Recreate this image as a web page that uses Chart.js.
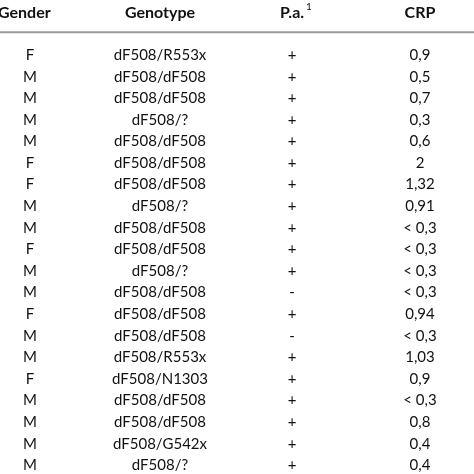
<!DOCTYPE html>
<html><head><meta charset="utf-8">
<script src="https://cdn.jsdelivr.net/npm/chart.js@4"></script>
<style>html,body{margin:0;padding:0;background:#fff}#w{width:474px;height:474px}</style>
</head><body><div id="w"><canvas id="c"></canvas></div>
<script>
const headers = ["Gender","Genotype","P.a.","CRP"];
const gender = ["F","M","M","M","M","F","F","M","M","F","M","M","F","M","M","F","M","M","M","M"];
const genotype = ["dF508/R553x","dF508/dF508","dF508/dF508","dF508/?","dF508/dF508","dF508/dF508","dF508/dF508","dF508/?","dF508/dF508","dF508/dF508","dF508/?","dF508/dF508","dF508/dF508","dF508/dF508","dF508/R553x","dF508/N1303","dF508/dF508","dF508/dF508","dF508/G542x","dF508/?"];
const pa = ["+","+","+","+","+","+","+","+","+","+","+","-","+","-","+","+","+","+","+","+"];
const crp = ["0,9","0,5","0,7","0,3","0,6","2","1,32","0,91","< 0,3","< 0,3","< 0,3","< 0,3","0,94","< 0,3","1,03","0,9","< 0,3","0,8","0,4","0,4"];
const columns = [gender, genotype, pa, crp];
const colX = [30, 160, 292, 420];
const headerRow = -1.94, ruleRow = -1.06;

const tablePlugin = {
  id: 'table',
  afterDatasetsDraw(chart) {
    const {ctx, scales:{x, y}} = chart;
    ctx.save();
    ctx.fillStyle = '#111';
    ctx.textAlign = 'center';
    ctx.textBaseline = 'middle';
    ctx.font = 'bold 16px Lato, "DejaVu Sans", sans-serif';
    headers.forEach((h, i) => {
      let px = x.getPixelForValue(colX[i]);
      if (i === 0) { ctx.textAlign = 'left'; px = x.getPixelForValue(-2); }
      else ctx.textAlign = 'center';
      ctx.fillText(h, px, y.getPixelForValue(headerRow));
      if (h === 'P.a.') {
        const w = ctx.measureText(h).width;
        ctx.font = '10px Lato, sans-serif';
        ctx.textAlign = 'left';
        ctx.fillText('1', px + w / 2 + 2, y.getPixelForValue(headerRow) - 6);
        ctx.font = 'bold 16px Lato, "DejaVu Sans", sans-serif';
      }
    });
    ctx.strokeStyle = '#9a9a9a';
    ctx.lineWidth = 2;
    ctx.beginPath();
    const ly = y.getPixelForValue(ruleRow);
    ctx.moveTo(x.getPixelForValue(0), ly);
    ctx.lineTo(x.getPixelForValue(474), ly);
    ctx.stroke();
    ctx.font = '15px Lato, "DejaVu Sans", sans-serif';
    ctx.textAlign = 'center';
    columns.forEach((col, ci) => {
      col.forEach((v, ri) => {
        ctx.fillText(v, x.getPixelForValue(colX[ci]), y.getPixelForValue(ri));
      });
    });
    ctx.restore();
  }
};

new Chart(document.getElementById('c'), {
  type: 'scatter',
  data: { datasets: [{ data: gender.map((g, i) => ({x: colX[0], y: i})), pointRadius: 0 }] },
  options: {
    responsive: true, maintainAspectRatio: false, animation: false,
    layout: { padding: 0 },
    plugins: { legend: { display: false }, tooltip: { enabled: false } },
    scales: {
      x: { type: 'linear', min: 0, max: 474, display: false },
      y: { type: 'linear', min: -2.55, max: 19.4, reverse: true, display: false }
    }
  },
  plugins: [tablePlugin]
});
</script></body></html>
